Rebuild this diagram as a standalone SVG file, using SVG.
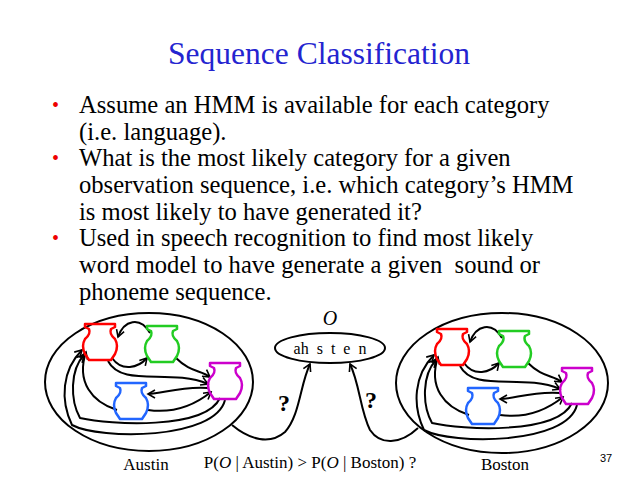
<svg xmlns="http://www.w3.org/2000/svg" width="638" height="478" viewBox="0 0 638 478">
<style>
.t{font-family:"Liberation Serif",serif;fill:#000}
.b{font-size:24.6px}
.e{fill:none;stroke:#000;stroke-width:2}
.v{fill:none;stroke-width:2.5;stroke-linejoin:round}
.d{fill:#e00;font-size:20px}
</style>
<defs>
<marker id="a" markerWidth="10" markerHeight="10" refX="8" refY="5" orient="auto" markerUnits="userSpaceOnUse"><path d="M1,1 L8,5 L1,9" fill="none" stroke="#000" stroke-width="1.6"/></marker>
<path id="vase" d="M-15,-19 H15 V-16 L11,-14 Q9,-9 15,-4 Q19,3 15,11 L11,17 H-11 L-15,11 Q-19,3 -15,-4 Q-9,-9 -11,-14 L-15,-16 Z"/>
<g id="hmm">
<g class="e" marker-end="url(#a)">
<path d="M150,333 C140,316 124,320 118,337"/>
<path d="M112,358 C122,372 138,368 147,358"/>
<path d="M108,361 C122,388 170,368 208,384"/>
<path d="M176,358 C190,372 200,370 210,377"/>
<path d="M208,388 C180,386 162,394 148,394"/>
<path d="M148,410 C176,414 196,404 211,392"/>
<path d="M117,410 C92,402 76,382 86,352"/>
<path d="M220,398 C205,430 110,425 80,418 C70,400 70,370 84,355"/>
<path d="M225,400 C215,440 100,440 72,425 C60,400 62,370 82,350"/>
</g>
<use href="#vase" x="100" y="343" class="v" stroke="#f00"/>
<use href="#vase" x="162" y="345" class="v" stroke="#2c2"/>
<use href="#vase" x="225" y="382" class="v" stroke="#c0c"/>
<use href="#vase" x="131" y="402" class="v" stroke="#26f"/>
</g>
</defs>
<text class="t" x="319" y="64" text-anchor="middle" font-size="31.5" style="fill:#2424d0">Sequence Classification</text>
<g class="t b">
<text x="52" y="112" class="d">•</text><text x="79" y="113">Assume an HMM is available for each category</text>
<text x="79" y="140">(i.e. language).</text>
<text x="52" y="165" class="d">•</text><text x="79" y="166">What is the most likely category for a given</text>
<text x="79" y="193">observation sequence, i.e. which category’s HMM</text>
<text x="79" y="220">is most likely to have generated it?</text>
<text x="52" y="245" class="d">•</text><text x="79" y="246">Used in speech recognition to find most likely</text>
<text x="79" y="273" xml:space="preserve">word model to have generate a given  sound or</text>
<text x="79" y="300">phoneme sequence.</text>
</g>
<g id="austin">
<ellipse cx="149" cy="382" rx="104" ry="69" class="e"/>
<use href="#hmm"/>
</g>
<g id="boston">
<ellipse cx="502" cy="383" rx="106" ry="70" class="e"/>
<use href="#hmm" transform="translate(352,5)"/>
</g>
<g id="obs">
<ellipse cx="330" cy="348" rx="55" ry="15" class="e" stroke-width="1.5"/>
<text class="t" x="330" y="354" text-anchor="middle" font-size="16" xml:space="preserve">ah  s  t  e  n</text>
<text class="t" x="330" y="325" text-anchor="middle" font-size="20" font-style="italic">O</text>
</g>
<g id="connectors" class="e" stroke-width="2.5" marker-end="url(#a)">
<path d="M232,425 C250,440 270,445 285,432 C300,415 300,385 310,364"/>
<path d="M418,428 C400,445 380,445 370,430 C360,410 360,385 350,364"/>
</g>
<text class="t" x="284" y="411" text-anchor="middle" font-size="24" font-weight="bold">?</text>
<text class="t" x="371" y="408" text-anchor="middle" font-size="24" font-weight="bold">?</text>
<text class="t" x="146" y="470" text-anchor="middle" font-size="17">Austin</text>
<text class="t" x="505" y="470" text-anchor="middle" font-size="17">Boston</text>
<text class="t" x="310" y="468" text-anchor="middle" font-size="17">P(<tspan font-style="italic">O</tspan> | Austin) &gt; P(<tspan font-style="italic">O</tspan> | Boston) ?</text>
<text x="600" y="462" font-family="Liberation Sans,sans-serif" font-size="11">37</text>
</svg>
